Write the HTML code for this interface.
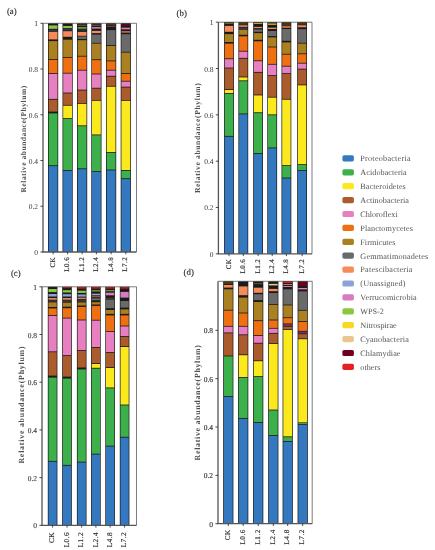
<!DOCTYPE html><html><head><meta charset="utf-8"><style>html,body{margin:0;padding:0;background:#fff;}svg{display:block;}text{font-family:"Liberation Serif",serif;text-rendering:geometricPrecision;}</style></head><body>
<svg style="filter:blur(0.35px)" width="435" height="550" viewBox="0 0 435 550">
<rect width="435" height="550" fill="#fff"/>
<rect x="48" y="23.3" width="10.2" height="228.7" fill="#1a1a1a"/>
<rect x="48.7" y="25.4" width="8.8" height="3.4" fill="#8cc640"/>
<rect x="48.7" y="29.48" width="8.8" height="1.64" fill="#2c3656"/>
<rect x="48.7" y="31.8" width="8.8" height="7.6" fill="#f58a5a"/>
<rect x="48.7" y="41.1" width="8.8" height="18.1" fill="#aa8020"/>
<rect x="48.7" y="60" width="8.8" height="13.1" fill="#ee7010"/>
<rect x="48.7" y="73.9" width="8.8" height="25" fill="#e87fc0"/>
<rect x="48.7" y="99.7" width="8.8" height="11.9" fill="#ab5b2c"/>
<rect x="48.7" y="113.4" width="8.8" height="51.9" fill="#3cb04a"/>
<rect x="48.7" y="166.1" width="8.8" height="85.9" fill="#3478c0"/>
<rect x="62.5" y="23.3" width="10.2" height="228.7" fill="#1a1a1a"/>
<rect x="63.2" y="25.98" width="8.8" height="2.14" fill="#8cc640"/>
<rect x="63.2" y="28.68" width="8.8" height="1.84" fill="#2c3656"/>
<rect x="63.2" y="31.2" width="8.8" height="5.6" fill="#f58a5a"/>
<rect x="63.2" y="39.7" width="8.8" height="17.3" fill="#aa8020"/>
<rect x="63.2" y="57.8" width="8.8" height="15" fill="#ee7010"/>
<rect x="63.2" y="73.6" width="8.8" height="19" fill="#e87fc0"/>
<rect x="63.2" y="93.4" width="8.8" height="11.5" fill="#ab5b2c"/>
<rect x="63.2" y="105.7" width="8.8" height="12.5" fill="#fbe91e"/>
<rect x="63.2" y="119" width="8.8" height="51.1" fill="#3cb04a"/>
<rect x="63.2" y="170.9" width="8.8" height="81.1" fill="#3478c0"/>
<rect x="77" y="23.3" width="10.2" height="228.7" fill="#1a1a1a"/>
<rect x="77.7" y="24.88" width="8.8" height="0.44" fill="#e8c890"/>
<rect x="77.7" y="26.98" width="8.8" height="1.84" fill="#6a9a30"/>
<rect x="77.7" y="29.38" width="8.8" height="1.14" fill="#2c3656"/>
<rect x="77.7" y="31.9" width="8.8" height="3.9" fill="#f58a5a"/>
<rect x="77.7" y="36.48" width="8.8" height="2.44" fill="#6a6a6a"/>
<rect x="77.7" y="40.2" width="8.8" height="15.6" fill="#aa8020"/>
<rect x="77.7" y="56.6" width="8.8" height="13.2" fill="#ee7010"/>
<rect x="77.7" y="70.6" width="8.8" height="19.1" fill="#e87fc0"/>
<rect x="77.7" y="90.5" width="8.8" height="12.5" fill="#ab5b2c"/>
<rect x="77.7" y="103.8" width="8.8" height="21.6" fill="#fbe91e"/>
<rect x="77.7" y="126.2" width="8.8" height="42.2" fill="#3cb04a"/>
<rect x="77.7" y="169.2" width="8.8" height="82.8" fill="#3478c0"/>
<rect x="91.3" y="23.3" width="10.2" height="228.7" fill="#1a1a1a"/>
<rect x="92" y="24.88" width="8.8" height="0.44" fill="#e8c890"/>
<rect x="92" y="27.08" width="8.8" height="1.54" fill="#d87cc0"/>
<rect x="92" y="30.88" width="8.8" height="2.24" fill="#f58a5a"/>
<rect x="92" y="34.6" width="8.8" height="8.2" fill="#6a6a6a"/>
<rect x="92" y="43.6" width="8.8" height="15.7" fill="#aa8020"/>
<rect x="92" y="60.1" width="8.8" height="13.5" fill="#ee7010"/>
<rect x="92" y="74.4" width="8.8" height="13.4" fill="#e87fc0"/>
<rect x="92" y="88.6" width="8.8" height="11.4" fill="#ab5b2c"/>
<rect x="92" y="100.8" width="8.8" height="33.7" fill="#fbe91e"/>
<rect x="92" y="135.3" width="8.8" height="35.9" fill="#3cb04a"/>
<rect x="92" y="172" width="8.8" height="80" fill="#3478c0"/>
<rect x="106" y="23.3" width="10.2" height="228.7" fill="#1a1a1a"/>
<rect x="106.7" y="23.6" width="8.8" height="1.92" fill="#4a3a10"/>
<rect x="106.7" y="26.05" width="8.8" height="0.4" fill="#e87fc0"/>
<rect x="106.7" y="30.1" width="8.8" height="15.1" fill="#6a6a6a"/>
<rect x="106.7" y="46" width="8.8" height="14.5" fill="#aa8020"/>
<rect x="106.7" y="61.3" width="8.8" height="8.5" fill="#ee7010"/>
<rect x="106.7" y="70.6" width="8.8" height="5.2" fill="#e87fc0"/>
<rect x="106.7" y="76.6" width="8.8" height="9.3" fill="#ab5b2c"/>
<rect x="106.7" y="86.7" width="8.8" height="65.4" fill="#fbe91e"/>
<rect x="106.7" y="152.9" width="8.8" height="16.7" fill="#3cb04a"/>
<rect x="106.7" y="170.4" width="8.8" height="81.6" fill="#3478c0"/>
<rect x="120.7" y="23.3" width="10.2" height="228.7" fill="#1a1a1a"/>
<rect x="121.4" y="23.6" width="8.8" height="2.02" fill="#700020"/>
<rect x="121.4" y="27.68" width="8.8" height="1.64" fill="#d87cc0"/>
<rect x="121.4" y="31.08" width="8.8" height="1.64" fill="#c86a48"/>
<rect x="121.4" y="34.2" width="8.8" height="17.6" fill="#6a6a6a"/>
<rect x="121.4" y="52.6" width="8.8" height="20.6" fill="#aa8020"/>
<rect x="121.4" y="74" width="8.8" height="6.8" fill="#ee7010"/>
<rect x="121.4" y="81.6" width="8.8" height="5.1" fill="#e87fc0"/>
<rect x="121.4" y="87.5" width="8.8" height="12.5" fill="#ab5b2c"/>
<rect x="121.4" y="100.8" width="8.8" height="69.2" fill="#fbe91e"/>
<rect x="121.4" y="170.8" width="8.8" height="7.5" fill="#3cb04a"/>
<rect x="121.4" y="179.1" width="8.8" height="72.9" fill="#3478c0"/>
<path d="M43 23.3H136.5V252" fill="none" stroke="#444" stroke-width="0.7"/>
<path d="M43 23.3V252H136.5" fill="none" stroke="#555" stroke-width="1.3"/>
<path d="M40.4 252H43" stroke="#222" stroke-width="0.8"/>
<text x="38.1" y="255" font-size="7.5" fill="#333" stroke="#333" stroke-width="0" text-anchor="end">0</text>
<path d="M40.4 206.26H43" stroke="#222" stroke-width="0.8"/>
<text x="38.1" y="209.26" font-size="7.5" fill="#333" stroke="#333" stroke-width="0" text-anchor="end">0.2</text>
<path d="M40.4 160.52H43" stroke="#222" stroke-width="0.8"/>
<text x="38.1" y="163.52" font-size="7.5" fill="#333" stroke="#333" stroke-width="0" text-anchor="end">0.4</text>
<path d="M40.4 114.78H43" stroke="#222" stroke-width="0.8"/>
<text x="38.1" y="117.78" font-size="7.5" fill="#333" stroke="#333" stroke-width="0" text-anchor="end">0.6</text>
<path d="M40.4 69.04H43" stroke="#222" stroke-width="0.8"/>
<text x="38.1" y="72.04" font-size="7.5" fill="#333" stroke="#333" stroke-width="0" text-anchor="end">0.8</text>
<path d="M40.4 23.3H43" stroke="#222" stroke-width="0.8"/>
<text x="38.1" y="26.3" font-size="7.5" fill="#333" stroke="#333" stroke-width="0" text-anchor="end">1</text>
<path d="M53.1 252V254.3" stroke="#222" stroke-width="0.8"/>
<text transform="translate(54.7 256.9) rotate(-90)" font-size="7.0" letter-spacing="0.45" fill="#333" stroke="#333" stroke-width="0.18" text-anchor="end">CK</text>
<path d="M67.6 252V254.3" stroke="#222" stroke-width="0.8"/>
<text transform="translate(69.2 256.9) rotate(-90)" font-size="7.0" letter-spacing="0.45" fill="#333" stroke="#333" stroke-width="0.18" text-anchor="end">L0.6</text>
<path d="M82.1 252V254.3" stroke="#222" stroke-width="0.8"/>
<text transform="translate(83.7 256.9) rotate(-90)" font-size="7.0" letter-spacing="0.45" fill="#333" stroke="#333" stroke-width="0.18" text-anchor="end">L1.2</text>
<path d="M96.4 252V254.3" stroke="#222" stroke-width="0.8"/>
<text transform="translate(98 256.9) rotate(-90)" font-size="7.0" letter-spacing="0.45" fill="#333" stroke="#333" stroke-width="0.18" text-anchor="end">L2.4</text>
<path d="M111.1 252V254.3" stroke="#222" stroke-width="0.8"/>
<text transform="translate(112.7 256.9) rotate(-90)" font-size="7.0" letter-spacing="0.45" fill="#333" stroke="#333" stroke-width="0.18" text-anchor="end">L4.8</text>
<path d="M125.8 252V254.3" stroke="#222" stroke-width="0.8"/>
<text transform="translate(127.4 256.9) rotate(-90)" font-size="7.0" letter-spacing="0.45" fill="#333" stroke="#333" stroke-width="0.18" text-anchor="end">L7.2</text>
<text transform="translate(25.6 192.6) rotate(-90)" font-size="7.5" font-weight="bold" fill="#505050" textLength="106.8" lengthAdjust="spacing">Relative abundance(Phylum)</text>
<text x="6.9" y="13.8" font-size="8.8" fill="#222" stroke="#222" stroke-width="0.1">(a)</text>
<rect x="224.1" y="22.2" width="9.8" height="231.6" fill="#1a1a1a"/>
<rect x="224.8" y="23.05" width="8.4" height="0.4" fill="#f8d820"/>
<rect x="224.8" y="25.9" width="8.4" height="5.9" fill="#f58a5a"/>
<rect x="224.8" y="34.1" width="8.4" height="7.9" fill="#aa8020"/>
<rect x="224.8" y="43.6" width="8.4" height="14.8" fill="#ee7010"/>
<rect x="224.8" y="59.2" width="8.4" height="8.4" fill="#e87fc0"/>
<rect x="224.8" y="68.4" width="8.4" height="20.8" fill="#ab5b2c"/>
<rect x="224.8" y="90" width="8.4" height="3.1" fill="#fbe91e"/>
<rect x="224.8" y="93.9" width="8.4" height="42" fill="#3cb04a"/>
<rect x="224.8" y="136.7" width="8.4" height="117.1" fill="#3478c0"/>
<rect x="238.4" y="22.2" width="9.8" height="231.6" fill="#1a1a1a"/>
<rect x="239.1" y="22.5" width="8.4" height="2.22" fill="#4a3a10"/>
<rect x="239.1" y="25.28" width="8.4" height="1.54" fill="#f58a5a"/>
<rect x="239.1" y="27.38" width="8.4" height="1.64" fill="#2c3656"/>
<rect x="239.1" y="29.7" width="8.4" height="5.1" fill="#aa8020"/>
<rect x="239.1" y="36.3" width="8.4" height="14.5" fill="#ee7010"/>
<rect x="239.1" y="51.6" width="8.4" height="6.3" fill="#e87fc0"/>
<rect x="239.1" y="58.7" width="8.4" height="17.9" fill="#ab5b2c"/>
<rect x="239.1" y="77.4" width="8.4" height="3" fill="#fbe91e"/>
<rect x="239.1" y="81.2" width="8.4" height="32.3" fill="#3cb04a"/>
<rect x="239.1" y="114.3" width="8.4" height="139.5" fill="#3478c0"/>
<rect x="253.2" y="22.2" width="9.8" height="231.6" fill="#1a1a1a"/>
<rect x="253.9" y="23.08" width="8.4" height="0.74" fill="#f8d820"/>
<rect x="253.9" y="26.88" width="8.4" height="1.24" fill="#f58a5a"/>
<rect x="253.9" y="29.48" width="8.4" height="2.34" fill="#6a6a6a"/>
<rect x="253.9" y="33.1" width="8.4" height="6.7" fill="#aa8020"/>
<rect x="253.9" y="41.3" width="8.4" height="19.1" fill="#ee7010"/>
<rect x="253.9" y="61.2" width="8.4" height="10.7" fill="#e87fc0"/>
<rect x="253.9" y="72.7" width="8.4" height="21.9" fill="#ab5b2c"/>
<rect x="253.9" y="95.4" width="8.4" height="16.9" fill="#fbe91e"/>
<rect x="253.9" y="113.1" width="8.4" height="39.9" fill="#3cb04a"/>
<rect x="253.9" y="153.8" width="8.4" height="100" fill="#3478c0"/>
<rect x="267.3" y="22.2" width="9.8" height="231.6" fill="#1a1a1a"/>
<rect x="268" y="23.58" width="8.4" height="1.14" fill="#f8d820"/>
<rect x="268" y="27.68" width="8.4" height="1.34" fill="#f58a5a"/>
<rect x="268" y="31" width="8.4" height="5.1" fill="#6a6a6a"/>
<rect x="268" y="37.4" width="8.4" height="9.2" fill="#aa8020"/>
<rect x="268" y="47.4" width="8.4" height="16.5" fill="#ee7010"/>
<rect x="268" y="64.7" width="8.4" height="10.5" fill="#e87fc0"/>
<rect x="268" y="76" width="8.4" height="20.8" fill="#ab5b2c"/>
<rect x="268" y="97.6" width="8.4" height="16.8" fill="#fbe91e"/>
<rect x="268" y="115.2" width="8.4" height="32.3" fill="#3cb04a"/>
<rect x="268" y="148.3" width="8.4" height="105.5" fill="#3478c0"/>
<rect x="281.5" y="22.2" width="9.8" height="231.6" fill="#1a1a1a"/>
<rect x="282.2" y="22.5" width="8.4" height="2.6" fill="#4a3a10"/>
<rect x="282.2" y="25.78" width="8.4" height="2.14" fill="#c86a48"/>
<rect x="282.2" y="29" width="8.4" height="11.8" fill="#6a6a6a"/>
<rect x="282.2" y="42.4" width="8.4" height="11.4" fill="#aa8020"/>
<rect x="282.2" y="54.6" width="8.4" height="11.2" fill="#ee7010"/>
<rect x="282.2" y="66.6" width="8.4" height="6.6" fill="#e87fc0"/>
<rect x="282.2" y="74" width="8.4" height="24.9" fill="#ab5b2c"/>
<rect x="282.2" y="99.7" width="8.4" height="65.5" fill="#fbe91e"/>
<rect x="282.2" y="166" width="8.4" height="11.6" fill="#3cb04a"/>
<rect x="282.2" y="178.4" width="8.4" height="75.4" fill="#3478c0"/>
<rect x="297.2" y="22.2" width="9.8" height="231.6" fill="#1a1a1a"/>
<rect x="297.9" y="22.5" width="8.4" height="2.22" fill="#4a3a10"/>
<rect x="297.9" y="25.28" width="8.4" height="1.94" fill="#f58a5a"/>
<rect x="297.9" y="29.2" width="8.4" height="13.6" fill="#6a6a6a"/>
<rect x="297.9" y="43.6" width="8.4" height="9.8" fill="#aa8020"/>
<rect x="297.9" y="54.2" width="8.4" height="8.6" fill="#ee7010"/>
<rect x="297.9" y="63.6" width="8.4" height="5.1" fill="#e87fc0"/>
<rect x="297.9" y="69.5" width="8.4" height="15" fill="#ab5b2c"/>
<rect x="297.9" y="85.3" width="8.4" height="78.9" fill="#fbe91e"/>
<rect x="297.9" y="165" width="8.4" height="5.2" fill="#3cb04a"/>
<rect x="297.9" y="171" width="8.4" height="82.8" fill="#3478c0"/>
<path d="M218.4 22.2H312V253.8" fill="none" stroke="#444" stroke-width="0.7"/>
<path d="M218.4 22.2V253.8H312" fill="none" stroke="#555" stroke-width="1.3"/>
<path d="M215.8 253.8H218.4" stroke="#222" stroke-width="0.8"/>
<text x="213.5" y="256.8" font-size="7.5" fill="#333" stroke="#333" stroke-width="0" text-anchor="end">0</text>
<path d="M215.8 207.48H218.4" stroke="#222" stroke-width="0.8"/>
<text x="213.5" y="210.48" font-size="7.5" fill="#333" stroke="#333" stroke-width="0" text-anchor="end">0.2</text>
<path d="M215.8 161.16H218.4" stroke="#222" stroke-width="0.8"/>
<text x="213.5" y="164.16" font-size="7.5" fill="#333" stroke="#333" stroke-width="0" text-anchor="end">0.4</text>
<path d="M215.8 114.84H218.4" stroke="#222" stroke-width="0.8"/>
<text x="213.5" y="117.84" font-size="7.5" fill="#333" stroke="#333" stroke-width="0" text-anchor="end">0.6</text>
<path d="M215.8 68.52H218.4" stroke="#222" stroke-width="0.8"/>
<text x="213.5" y="71.52" font-size="7.5" fill="#333" stroke="#333" stroke-width="0" text-anchor="end">0.8</text>
<path d="M215.8 22.2H218.4" stroke="#222" stroke-width="0.8"/>
<text x="213.5" y="25.2" font-size="7.5" fill="#333" stroke="#333" stroke-width="0" text-anchor="end">1</text>
<path d="M229 253.8V256.1" stroke="#222" stroke-width="0.8"/>
<text transform="translate(230.6 258.7) rotate(-90)" font-size="7.0" letter-spacing="0.45" fill="#333" stroke="#333" stroke-width="0.18" text-anchor="end">CK</text>
<path d="M243.3 253.8V256.1" stroke="#222" stroke-width="0.8"/>
<text transform="translate(244.9 258.7) rotate(-90)" font-size="7.0" letter-spacing="0.45" fill="#333" stroke="#333" stroke-width="0.18" text-anchor="end">L0.6</text>
<path d="M258.1 253.8V256.1" stroke="#222" stroke-width="0.8"/>
<text transform="translate(259.7 258.7) rotate(-90)" font-size="7.0" letter-spacing="0.45" fill="#333" stroke="#333" stroke-width="0.18" text-anchor="end">L1.2</text>
<path d="M272.2 253.8V256.1" stroke="#222" stroke-width="0.8"/>
<text transform="translate(273.8 258.7) rotate(-90)" font-size="7.0" letter-spacing="0.45" fill="#333" stroke="#333" stroke-width="0.18" text-anchor="end">L2.4</text>
<path d="M286.4 253.8V256.1" stroke="#222" stroke-width="0.8"/>
<text transform="translate(288 258.7) rotate(-90)" font-size="7.0" letter-spacing="0.45" fill="#333" stroke="#333" stroke-width="0.18" text-anchor="end">L4.8</text>
<path d="M302.1 253.8V256.1" stroke="#222" stroke-width="0.8"/>
<text transform="translate(303.7 258.7) rotate(-90)" font-size="7.0" letter-spacing="0.45" fill="#333" stroke="#333" stroke-width="0.18" text-anchor="end">L7.2</text>
<text transform="translate(200 193.1) rotate(-90)" font-size="7.6" font-weight="bold" fill="#505050" textLength="109.9" lengthAdjust="spacing">Relative abundance(Phylum)</text>
<text x="176.6" y="16" font-size="8.8" fill="#222" stroke="#222" stroke-width="0.1">(b)</text>
<rect x="47.8" y="286.8" width="9.6" height="238.5" fill="#1a1a1a"/>
<rect x="48.5" y="289" width="8.2" height="3.1" fill="#8cc640"/>
<rect x="48.5" y="294" width="8.2" height="2.5" fill="#8aa4d8"/>
<rect x="48.5" y="298.08" width="8.2" height="1.64" fill="#f58a5a"/>
<rect x="48.5" y="300.28" width="8.2" height="1.44" fill="#3a3a3a"/>
<rect x="48.5" y="302.4" width="8.2" height="4.6" fill="#aa8020"/>
<rect x="48.5" y="308.4" width="8.2" height="6.8" fill="#ee7010"/>
<rect x="48.5" y="316" width="8.2" height="35.4" fill="#e87fc0"/>
<rect x="48.5" y="352.2" width="8.2" height="23.4" fill="#ab5b2c"/>
<rect x="48.5" y="377.6" width="8.2" height="83.3" fill="#3cb04a"/>
<rect x="48.5" y="461.7" width="8.2" height="63.6" fill="#3478c0"/>
<rect x="62.2" y="286.8" width="9.6" height="238.5" fill="#1a1a1a"/>
<rect x="62.9" y="287.1" width="8.2" height="1.02" fill="#e01818"/>
<rect x="62.9" y="290.2" width="8.2" height="2.3" fill="#8cc640"/>
<rect x="62.9" y="294.2" width="8.2" height="2.3" fill="#8aa4d8"/>
<rect x="62.9" y="298.08" width="8.2" height="1.64" fill="#f58a5a"/>
<rect x="62.9" y="300.28" width="8.2" height="1.74" fill="#3a3a3a"/>
<rect x="62.9" y="302.7" width="8.2" height="4" fill="#aa8020"/>
<rect x="62.9" y="308.2" width="8.2" height="9.5" fill="#ee7010"/>
<rect x="62.9" y="318.5" width="8.2" height="36.7" fill="#e87fc0"/>
<rect x="62.9" y="356" width="8.2" height="20.6" fill="#ab5b2c"/>
<rect x="62.9" y="378.6" width="8.2" height="86.3" fill="#3cb04a"/>
<rect x="62.9" y="465.7" width="8.2" height="59.6" fill="#3478c0"/>
<rect x="76.9" y="286.8" width="9.6" height="238.5" fill="#1a1a1a"/>
<rect x="77.6" y="287.1" width="8.2" height="1.52" fill="#e01818"/>
<rect x="77.6" y="290.68" width="8.2" height="2.24" fill="#8cc640"/>
<rect x="77.6" y="294.48" width="8.2" height="2.14" fill="#8aa4d8"/>
<rect x="77.6" y="297.68" width="8.2" height="1.24" fill="#f58a5a"/>
<rect x="77.6" y="299.48" width="8.2" height="2.24" fill="#3a3a3a"/>
<rect x="77.6" y="302.4" width="8.2" height="3.1" fill="#aa8020"/>
<rect x="77.6" y="306.9" width="8.2" height="12.7" fill="#ee7010"/>
<rect x="77.6" y="320.4" width="8.2" height="29.7" fill="#e87fc0"/>
<rect x="77.6" y="350.9" width="8.2" height="16.6" fill="#ab5b2c"/>
<rect x="77.6" y="369.4" width="8.2" height="92.3" fill="#3cb04a"/>
<rect x="77.6" y="462.5" width="8.2" height="62.8" fill="#3478c0"/>
<rect x="91.1" y="286.8" width="9.6" height="238.5" fill="#1a1a1a"/>
<rect x="91.8" y="287.1" width="8.2" height="1.52" fill="#e01818"/>
<rect x="91.8" y="290.08" width="8.2" height="1.44" fill="#6a9a30"/>
<rect x="91.8" y="293.68" width="8.2" height="1.64" fill="#8aa4d8"/>
<rect x="91.8" y="296.28" width="8.2" height="0.94" fill="#c86a48"/>
<rect x="91.8" y="298.38" width="8.2" height="1.94" fill="#6a6a6a"/>
<rect x="91.8" y="302.2" width="8.2" height="2.3" fill="#aa8020"/>
<rect x="91.8" y="305.9" width="8.2" height="13.9" fill="#ee7010"/>
<rect x="91.8" y="320.6" width="8.2" height="26.4" fill="#e87fc0"/>
<rect x="91.8" y="347.8" width="8.2" height="15.4" fill="#ab5b2c"/>
<rect x="91.8" y="364" width="8.2" height="3.8" fill="#fbe91e"/>
<rect x="91.8" y="368.6" width="8.2" height="85.1" fill="#3cb04a"/>
<rect x="91.8" y="454.5" width="8.2" height="70.8" fill="#3478c0"/>
<rect x="105.3" y="286.8" width="9.6" height="238.5" fill="#1a1a1a"/>
<rect x="106" y="287.1" width="8.2" height="1.52" fill="#e01818"/>
<rect x="106" y="289.98" width="8.2" height="1.34" fill="#6a9a30"/>
<rect x="106" y="292.7" width="8.2" height="2.6" fill="#d87cc0"/>
<rect x="106" y="297.88" width="8.2" height="0.54" fill="#ab5b2c"/>
<rect x="106" y="299.6" width="8.2" height="8.6" fill="#6a6a6a"/>
<rect x="106" y="310" width="8.2" height="3.9" fill="#aa8020"/>
<rect x="106" y="315.4" width="8.2" height="15.7" fill="#ee7010"/>
<rect x="106" y="331.9" width="8.2" height="20.2" fill="#e87fc0"/>
<rect x="106" y="352.9" width="8.2" height="14.3" fill="#ab5b2c"/>
<rect x="106" y="368" width="8.2" height="19.5" fill="#fbe91e"/>
<rect x="106" y="388.3" width="8.2" height="57.4" fill="#3cb04a"/>
<rect x="106" y="446.5" width="8.2" height="78.8" fill="#3478c0"/>
<rect x="119.8" y="286.8" width="9.6" height="238.5" fill="#1a1a1a"/>
<rect x="120.5" y="287.1" width="8.2" height="1.52" fill="#e01818"/>
<rect x="120.5" y="291.9" width="8.2" height="5.7" fill="#d87cc0"/>
<rect x="120.5" y="301" width="8.2" height="6.6" fill="#6a6a6a"/>
<rect x="120.5" y="309.4" width="8.2" height="4.5" fill="#aa8020"/>
<rect x="120.5" y="315.4" width="8.2" height="10.2" fill="#ee7010"/>
<rect x="120.5" y="326.4" width="8.2" height="9.7" fill="#e87fc0"/>
<rect x="120.5" y="336.9" width="8.2" height="9.3" fill="#ab5b2c"/>
<rect x="120.5" y="347" width="8.2" height="57.6" fill="#fbe91e"/>
<rect x="120.5" y="405.4" width="8.2" height="31.4" fill="#3cb04a"/>
<rect x="120.5" y="437.6" width="8.2" height="87.7" fill="#3478c0"/>
<path d="M42 286.8H136.5V525.3" fill="none" stroke="#444" stroke-width="0.7"/>
<path d="M42 286.8V525.3H136.5" fill="none" stroke="#555" stroke-width="1.3"/>
<path d="M39.4 525.3H42" stroke="#222" stroke-width="0.8"/>
<text x="37.1" y="528.3" font-size="7.5" fill="#333" stroke="#333" stroke-width="0.1" text-anchor="end">0</text>
<path d="M39.4 477.6H42" stroke="#222" stroke-width="0.8"/>
<text x="37.1" y="480.6" font-size="7.5" fill="#333" stroke="#333" stroke-width="0.1" text-anchor="end">0.2</text>
<path d="M39.4 429.9H42" stroke="#222" stroke-width="0.8"/>
<text x="37.1" y="432.9" font-size="7.5" fill="#333" stroke="#333" stroke-width="0.1" text-anchor="end">0.4</text>
<path d="M39.4 382.2H42" stroke="#222" stroke-width="0.8"/>
<text x="37.1" y="385.2" font-size="7.5" fill="#333" stroke="#333" stroke-width="0.1" text-anchor="end">0.6</text>
<path d="M39.4 334.5H42" stroke="#222" stroke-width="0.8"/>
<text x="37.1" y="337.5" font-size="7.5" fill="#333" stroke="#333" stroke-width="0.1" text-anchor="end">0.8</text>
<path d="M39.4 286.8H42" stroke="#222" stroke-width="0.8"/>
<text x="37.1" y="289.8" font-size="7.5" fill="#333" stroke="#333" stroke-width="0.1" text-anchor="end">1</text>
<path d="M52.6 525.3V527.6" stroke="#222" stroke-width="0.8"/>
<text transform="translate(54.2 531.9) rotate(-90)" font-size="7.3" letter-spacing="0.45" fill="#333" stroke="#333" stroke-width="0.18" text-anchor="end">CK</text>
<path d="M67 525.3V527.6" stroke="#222" stroke-width="0.8"/>
<text transform="translate(68.6 531.9) rotate(-90)" font-size="7.3" letter-spacing="0.45" fill="#333" stroke="#333" stroke-width="0.18" text-anchor="end">L0.6</text>
<path d="M81.7 525.3V527.6" stroke="#222" stroke-width="0.8"/>
<text transform="translate(83.3 531.9) rotate(-90)" font-size="7.3" letter-spacing="0.45" fill="#333" stroke="#333" stroke-width="0.18" text-anchor="end">L1.2</text>
<path d="M95.9 525.3V527.6" stroke="#222" stroke-width="0.8"/>
<text transform="translate(97.5 531.9) rotate(-90)" font-size="7.3" letter-spacing="0.45" fill="#333" stroke="#333" stroke-width="0.18" text-anchor="end">L2.4</text>
<path d="M110.1 525.3V527.6" stroke="#222" stroke-width="0.8"/>
<text transform="translate(111.7 531.9) rotate(-90)" font-size="7.3" letter-spacing="0.45" fill="#333" stroke="#333" stroke-width="0.18" text-anchor="end">L4.8</text>
<path d="M124.6 525.3V527.6" stroke="#222" stroke-width="0.8"/>
<text transform="translate(126.2 531.9) rotate(-90)" font-size="7.3" letter-spacing="0.45" fill="#333" stroke="#333" stroke-width="0.18" text-anchor="end">L7.2</text>
<text transform="translate(24 463.6) rotate(-90)" font-size="7.9" font-weight="bold" fill="#505050" textLength="117.2" lengthAdjust="spacing">Relative abundance(Phylum)</text>
<text x="10.9" y="276.1" font-size="8.8" fill="#222" stroke="#222" stroke-width="0.1">(c)</text>
<rect x="223.2" y="281.3" width="10.2" height="242.4" fill="#1a1a1a"/>
<rect x="223.9" y="281.6" width="8.8" height="2.6" fill="#4a3a10"/>
<rect x="223.9" y="285" width="8.8" height="2.6" fill="#f58a5a"/>
<rect x="223.9" y="289.3" width="8.8" height="20.5" fill="#aa8020"/>
<rect x="223.9" y="310.6" width="8.8" height="15.3" fill="#ee7010"/>
<rect x="223.9" y="326.7" width="8.8" height="5.8" fill="#e87fc0"/>
<rect x="223.9" y="333.3" width="8.8" height="22.3" fill="#ab5b2c"/>
<rect x="223.9" y="356.4" width="8.8" height="39.7" fill="#3cb04a"/>
<rect x="223.9" y="396.9" width="8.8" height="126.8" fill="#3478c0"/>
<rect x="238.1" y="281.3" width="10.2" height="242.4" fill="#1a1a1a"/>
<rect x="238.8" y="286.4" width="8.8" height="8.8" fill="#f58a5a"/>
<rect x="238.8" y="297.6" width="8.8" height="15" fill="#aa8020"/>
<rect x="238.8" y="313.4" width="8.8" height="12.5" fill="#ee7010"/>
<rect x="238.8" y="326.7" width="8.8" height="7.7" fill="#e87fc0"/>
<rect x="238.8" y="335.2" width="8.8" height="19.2" fill="#ab5b2c"/>
<rect x="238.8" y="355.2" width="8.8" height="21.9" fill="#fbe91e"/>
<rect x="238.8" y="377.9" width="8.8" height="40.2" fill="#3cb04a"/>
<rect x="238.8" y="418.9" width="8.8" height="104.8" fill="#3478c0"/>
<rect x="253.1" y="281.3" width="10.2" height="242.4" fill="#1a1a1a"/>
<rect x="253.8" y="283.48" width="8.8" height="0.64" fill="#aa8020"/>
<rect x="253.8" y="287.7" width="8.8" height="5.1" fill="#f58a5a"/>
<rect x="253.8" y="294.2" width="8.8" height="5.9" fill="#6a6a6a"/>
<rect x="253.8" y="302" width="8.8" height="18.3" fill="#aa8020"/>
<rect x="253.8" y="321.1" width="8.8" height="14.1" fill="#ee7010"/>
<rect x="253.8" y="336" width="8.8" height="6.8" fill="#e87fc0"/>
<rect x="253.8" y="343.6" width="8.8" height="16.8" fill="#ab5b2c"/>
<rect x="253.8" y="361.2" width="8.8" height="15" fill="#fbe91e"/>
<rect x="253.8" y="377" width="8.8" height="45.1" fill="#3cb04a"/>
<rect x="253.8" y="422.9" width="8.8" height="100.8" fill="#3478c0"/>
<rect x="268.2" y="281.3" width="10.2" height="242.4" fill="#1a1a1a"/>
<rect x="268.9" y="283.88" width="8.8" height="1.54" fill="#e8c890"/>
<rect x="268.9" y="288.9" width="8.8" height="2.3" fill="#f58a5a"/>
<rect x="268.9" y="293" width="8.8" height="11.1" fill="#6a6a6a"/>
<rect x="268.9" y="304.9" width="8.8" height="14.7" fill="#aa8020"/>
<rect x="268.9" y="320.4" width="8.8" height="7.5" fill="#ee7010"/>
<rect x="268.9" y="328.7" width="8.8" height="4.2" fill="#e87fc0"/>
<rect x="268.9" y="333.7" width="8.8" height="9.4" fill="#ab5b2c"/>
<rect x="268.9" y="343.9" width="8.8" height="65.7" fill="#fbe91e"/>
<rect x="268.9" y="410.4" width="8.8" height="24.8" fill="#3cb04a"/>
<rect x="268.9" y="436" width="8.8" height="87.7" fill="#3478c0"/>
<rect x="282.6" y="281.3" width="10.2" height="242.4" fill="#1a1a1a"/>
<rect x="283.3" y="281.6" width="8.8" height="1.52" fill="#e01818"/>
<rect x="283.3" y="284.18" width="8.8" height="0.64" fill="#e8c890"/>
<rect x="283.3" y="285.98" width="8.8" height="0.94" fill="#e87fc0"/>
<rect x="283.3" y="289.3" width="8.8" height="15.3" fill="#6a6a6a"/>
<rect x="283.3" y="305.4" width="8.8" height="11.9" fill="#aa8020"/>
<rect x="283.3" y="318.1" width="8.8" height="5.4" fill="#ee7010"/>
<rect x="283.3" y="324.18" width="8.8" height="1.84" fill="#7a3060"/>
<rect x="283.3" y="326.7" width="8.8" height="2.4" fill="#ab5b2c"/>
<rect x="283.3" y="329.9" width="8.8" height="106.5" fill="#fbe91e"/>
<rect x="283.3" y="437.2" width="8.8" height="3.8" fill="#3cb04a"/>
<rect x="283.3" y="441.8" width="8.8" height="81.9" fill="#3478c0"/>
<rect x="297.6" y="281.3" width="10.2" height="242.4" fill="#1a1a1a"/>
<rect x="298.3" y="281.6" width="8.8" height="4.6" fill="#700020"/>
<rect x="298.3" y="287.98" width="8.8" height="1.34" fill="#e87fc0"/>
<rect x="298.3" y="291.4" width="8.8" height="18.5" fill="#6a6a6a"/>
<rect x="298.3" y="310.7" width="8.8" height="10.4" fill="#aa8020"/>
<rect x="298.3" y="321.9" width="8.8" height="9" fill="#ee7010"/>
<rect x="298.3" y="331.58" width="8.8" height="1.94" fill="#7a3060"/>
<rect x="298.3" y="334.2" width="8.8" height="4.2" fill="#ab5b2c"/>
<rect x="298.3" y="339.2" width="8.8" height="83.2" fill="#fbe91e"/>
<rect x="298.3" y="423.08" width="8.8" height="0.94" fill="#3cb04a"/>
<rect x="298.3" y="424.7" width="8.8" height="99" fill="#3478c0"/>
<path d="M218 281.3H312.2V523.7" fill="none" stroke="#444" stroke-width="0.7"/>
<path d="M218 281.3V523.7H312.2" fill="none" stroke="#555" stroke-width="1.3"/>
<path d="M215.4 523.7H218" stroke="#222" stroke-width="0.8"/>
<text x="213.1" y="526.7" font-size="7.5" fill="#333" stroke="#333" stroke-width="0.15" text-anchor="end">0</text>
<path d="M215.4 475.36H218" stroke="#222" stroke-width="0.8"/>
<text x="213.1" y="478.36" font-size="7.5" fill="#333" stroke="#333" stroke-width="0.15" text-anchor="end">0.2</text>
<path d="M215.4 427.02H218" stroke="#222" stroke-width="0.8"/>
<text x="213.1" y="430.02" font-size="7.5" fill="#333" stroke="#333" stroke-width="0.15" text-anchor="end">0.4</text>
<path d="M215.4 378.68H218" stroke="#222" stroke-width="0.8"/>
<text x="213.1" y="381.68" font-size="7.5" fill="#333" stroke="#333" stroke-width="0.15" text-anchor="end">0.6</text>
<path d="M215.4 330.34H218" stroke="#222" stroke-width="0.8"/>
<text x="213.1" y="333.34" font-size="7.5" fill="#333" stroke="#333" stroke-width="0.15" text-anchor="end">0.8</text>
<path d="M228.3 523.7V526" stroke="#222" stroke-width="0.8"/>
<text transform="translate(229.9 529.3) rotate(-90)" font-size="7.2" letter-spacing="0.45" fill="#333" stroke="#333" stroke-width="0.18" text-anchor="end">CK</text>
<path d="M243.2 523.7V526" stroke="#222" stroke-width="0.8"/>
<text transform="translate(244.8 529.3) rotate(-90)" font-size="7.2" letter-spacing="0.45" fill="#333" stroke="#333" stroke-width="0.18" text-anchor="end">L0.6</text>
<path d="M258.2 523.7V526" stroke="#222" stroke-width="0.8"/>
<text transform="translate(259.8 529.3) rotate(-90)" font-size="7.2" letter-spacing="0.45" fill="#333" stroke="#333" stroke-width="0.18" text-anchor="end">L1.2</text>
<path d="M273.3 523.7V526" stroke="#222" stroke-width="0.8"/>
<text transform="translate(274.9 529.3) rotate(-90)" font-size="7.2" letter-spacing="0.45" fill="#333" stroke="#333" stroke-width="0.18" text-anchor="end">L2.4</text>
<path d="M287.7 523.7V526" stroke="#222" stroke-width="0.8"/>
<text transform="translate(289.3 529.3) rotate(-90)" font-size="7.2" letter-spacing="0.45" fill="#333" stroke="#333" stroke-width="0.18" text-anchor="end">L4.8</text>
<path d="M302.7 523.7V526" stroke="#222" stroke-width="0.8"/>
<text transform="translate(304.3 529.3) rotate(-90)" font-size="7.2" letter-spacing="0.45" fill="#333" stroke="#333" stroke-width="0.18" text-anchor="end">L7.2</text>
<text transform="translate(199.6 460.4) rotate(-90)" font-size="7.9" font-weight="bold" fill="#505050" textLength="115.4" lengthAdjust="spacing">Relative abundance(Phylum)</text>
<text x="183.6" y="274.9" font-size="8.8" fill="#222" stroke="#222" stroke-width="0.1">(d)</text>
<rect x="342.4" y="155.3" width="11.5" height="6.2" rx="1.7" fill="#3478c0"/>
<text x="360.3" y="161.2" font-size="8.2" fill="#555" textLength="50.3" lengthAdjust="spacing">Proteobacteria</text>
<rect x="342.4" y="169.2" width="11.5" height="6.2" rx="1.7" fill="#3cb04a"/>
<text x="360.3" y="175.1" font-size="8.2" fill="#555" textLength="46.4" lengthAdjust="spacing">Acidobacteria</text>
<rect x="342.4" y="183.1" width="11.5" height="6.2" rx="1.7" fill="#fbe91e"/>
<text x="360.3" y="189" font-size="8.2" fill="#555" textLength="45.5" lengthAdjust="spacing">Bacteroidetes</text>
<rect x="342.4" y="197" width="11.5" height="6.2" rx="1.7" fill="#ab5b2c"/>
<text x="360.3" y="202.9" font-size="8.2" fill="#555" textLength="48.6" lengthAdjust="spacing">Actinobacteria</text>
<rect x="342.4" y="210.9" width="11.5" height="6.2" rx="1.7" fill="#e87fc0"/>
<text x="360.3" y="216.8" font-size="8.2" fill="#555" textLength="37.4" lengthAdjust="spacing">Chloroflexi</text>
<rect x="342.4" y="224.8" width="11.5" height="6.2" rx="1.7" fill="#ee7010"/>
<text x="360.3" y="230.7" font-size="8.2" fill="#555" textLength="52.6" lengthAdjust="spacing">Planctomycetes</text>
<rect x="342.4" y="238.7" width="11.5" height="6.2" rx="1.7" fill="#aa8020"/>
<text x="360.3" y="244.6" font-size="8.2" fill="#555" textLength="35.1" lengthAdjust="spacing">Firmicutes</text>
<rect x="342.4" y="252.6" width="11.5" height="6.2" rx="1.7" fill="#6a6a6a"/>
<text x="360.3" y="258.5" font-size="8.2" fill="#555" textLength="67.9" lengthAdjust="spacing">Gemmatimonadetes</text>
<rect x="342.4" y="266.5" width="11.5" height="6.2" rx="1.7" fill="#f58a5a"/>
<text x="360.3" y="272.4" font-size="8.2" fill="#555" textLength="52.1" lengthAdjust="spacing">Patescibacteria</text>
<rect x="342.4" y="280.4" width="11.5" height="6.2" rx="1.7" fill="#8aa4d8"/>
<text x="360.3" y="286.3" font-size="8.2" fill="#555" textLength="45.2" lengthAdjust="spacing">(Unassigned)</text>
<rect x="342.4" y="294.3" width="11.5" height="6.2" rx="1.7" fill="#d87cc0"/>
<text x="360.3" y="300.2" font-size="8.2" fill="#555" textLength="56.4" lengthAdjust="spacing">Verrucomicrobia</text>
<rect x="342.4" y="308.2" width="11.5" height="6.2" rx="1.7" fill="#8cc640"/>
<text x="360.3" y="314.1" font-size="8.2" fill="#555" textLength="23.5" lengthAdjust="spacing">WPS-2</text>
<rect x="342.4" y="322.1" width="11.5" height="6.2" rx="1.7" fill="#f8d820"/>
<text x="360.3" y="328" font-size="8.2" fill="#555" textLength="36.4" lengthAdjust="spacing">Nitrospirae</text>
<rect x="342.4" y="336" width="11.5" height="6.2" rx="1.7" fill="#e8c890"/>
<text x="360.3" y="341.9" font-size="8.2" fill="#555" textLength="48.5" lengthAdjust="spacing">Cyanobacteria</text>
<rect x="342.4" y="349.9" width="11.5" height="6.2" rx="1.7" fill="#700020"/>
<text x="360.3" y="355.8" font-size="8.2" fill="#555" textLength="40.2" lengthAdjust="spacing">Chlamydiae</text>
<rect x="342.4" y="363.8" width="11.5" height="6.2" rx="1.7" fill="#e42020"/>
<text x="360.3" y="369.7" font-size="8.2" fill="#555" textLength="20.1" lengthAdjust="spacing">others</text>
</svg></body></html>
